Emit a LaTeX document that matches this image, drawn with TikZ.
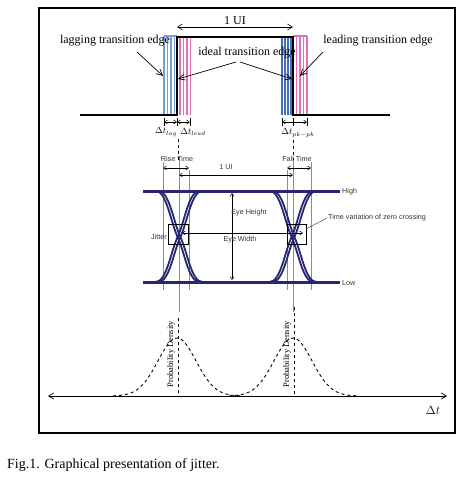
\documentclass[tikz,border=0pt]{standalone}
\usepackage{fontspec}
\setmainfont{Liberation Serif}
\newfontfamily\eyefont{Liberation Sans}
\usepackage{amsmath}
\usetikzlibrary{arrows.meta, positioning, calc}
\definecolor{lagblue}{RGB}{115, 160, 220}
\definecolor{lagdark}{RGB}{65, 110, 180}
\definecolor{leadpink}{RGB}{232, 110, 178}
\definecolor{eyenavy}{RGB}{38, 38, 115}

\begin{document}
\begin{tikzpicture}[x=1pt, y=-1pt,
  every node/.style={inner sep=1pt},
  toplbl/.style={font=\fontsize{12}{14}\selectfont},
  eyelbl/.style={font=\eyefont\fontsize{7.2}{8.5}\selectfont, text=black!80},
  pdlbl/.style={font=\fontsize{8.5}{10}\selectfont, rotate=90},
  barb/.style={{Straight Barb[length=5pt,width=6pt]}-{Straight Barb[length=5pt,width=6pt]}},
  smallbarb/.style={{Straight Barb[length=3pt,width=4pt]}-{Straight Barb[length=3pt,width=4pt]}},
  pointer/.style={-{Straight Barb[length=6pt,width=6pt]}, line width=0.7pt},
  eyetrace/.style={draw=eyenavy, line width=1.8pt},
  guide/.style={draw=black!45, line width=0.5pt}]
  \useasboundingbox (0,0) rectangle (474,481);

  % outer frame
  \draw[line width=1.4pt] (39,8) rectangle (455,433);

  % jittered edges of the pulse
  \foreach \x in {164,167.5,171,174.5} \draw[lagblue, line width=1.2pt] (\x,36) -- (\x,115);
  \draw[lagblue, line width=1.2pt] (164,36) -- (177,36);
  \foreach \x in {180,183.5,187,190.5} \draw[leadpink, line width=1.2pt] (\x,37) -- (\x,115);
  \foreach \x in {282,285,288,291} \draw[lagdark, line width=1.2pt] (\x,37) -- (\x,115);
  \foreach \x in {296.5,300,303.5,307} \draw[leadpink, line width=1.2pt] (\x,36) -- (\x,115);
  \draw[leadpink, line width=1.2pt] (293,36) -- (307,36);

  % ideal pulse
  \draw[line width=1.6pt] (80,115) -- (177,115) -- (177,37) -- (293,37) -- (293,115) -- (390,115);

  \draw[barb, line width=0.6pt] (177,27) -- node[above=1pt, toplbl] (ui) {1 UI} (293,27);

  \node[toplbl] (lagging) at (115,41) {lagging transition edge};
  \node[toplbl] (leading) at (378,41) {leading transition edge};
  \node[toplbl] (ideal) at (247,53) {ideal transition edge};
  \draw[pointer] (137,52) -- (163,76);
  \draw[pointer] (323,52) -- (300,76);
  \draw[pointer] (236,62) -- (178,79);
  \draw[pointer] (240,62) -- (292,79);

  % deviation markers
  \draw[smallbarb, line width=0.5pt] (164,122) -- (177,122);
  \draw[smallbarb, line width=0.5pt] (177,122) -- (190,122);
  \draw[smallbarb, line width=0.5pt] (282,122) -- (307,122);
  \foreach \x in {164,177,190,282,293,307} \draw[line width=0.5pt] (\x,118) -- (\x,126);
  \node[font=\fontsize{9}{10}\selectfont] (dlag) at (166,132) {$\Delta t_{lag}$};
  \node[font=\fontsize{9}{10}\selectfont] (dlead) at (193,132) {$\Delta t_{lead}$};
  \node[font=\fontsize{9}{10}\selectfont] (dpkpk) at (298,133) {$\Delta t_{pk-pk}$};

  \draw[dashed, line width=0.7pt] (178,139) -- (178,160);
  \draw[dashed, line width=0.7pt] (293,140) -- (293,160);

  % eye diagram guides
  \draw[guide] (163,162) -- (163,290);
  \draw[guide] (179,160) -- (179,312);
  \draw[guide] (189,170) -- (189,290);
  \draw[guide] (287,170) -- (287,290);
  \draw[guide] (293,160) -- (293,312);
  \draw[guide] (311,162) -- (311,290);
  \draw[smallbarb, line width=0.5pt] (163,168) -- (189,168);
  \draw[smallbarb, line width=0.5pt] (287,168) -- (311,168);
  \draw[smallbarb, line width=0.5pt] (179,175) -- (293,175);
  \node[eyelbl] (rise) at (177,159) {Rise Time};
  \node[eyelbl] (fall) at (297,159) {Fall Time};
  \node[eyelbl] (uieye) at (226,167) {1 UI};

  % eye traces
  \draw[eyenavy, line width=3pt] (143,191) -- (340,191);
  \draw[eyenavy, line width=3pt] (143,282) -- (340,282);
  \foreach \d in {-1.4,1.4} {
    \draw[eyetrace, xshift=\d pt] (157,191) .. controls (168,191) and (172,222) .. (179,237) .. controls (186,252) and (190,282) .. (201,282);
    \draw[eyetrace, xshift=\d pt] (157,282) .. controls (168,282) and (172,252) .. (179,237) .. controls (186,222) and (190,191) .. (201,191);
    \draw[eyetrace, xshift=\d pt] (271,191) .. controls (282,191) and (286,222) .. (293,237) .. controls (300,252) and (304,282) .. (315,282);
    \draw[eyetrace, xshift=\d pt] (271,282) .. controls (282,282) and (286,252) .. (293,237) .. controls (300,222) and (304,191) .. (315,191);
  }
  \node[eyelbl, anchor=west] (high) at (341,192) {High};
  \node[eyelbl, anchor=west] (low) at (341,283) {Low};

  \draw[line width=0.9pt] (168,224) rectangle (188,244);
  \draw[line width=0.9pt] (287,224) rectangle (306,244);
  \node[eyelbl, anchor=east] (jitter) at (168,237) {Jitter};

  \draw[smallbarb, line width=0.5pt] (232,193) -- (232,280);
  \node[eyelbl] (height) at (249,213) {Eye Height};
  \draw[smallbarb, line width=0.5pt] (182,233) -- (303,233);
  \node[eyelbl] (width) at (240,240) {Eye Width};
  \node[eyelbl, anchor=west] (zerox) at (327,218) {Time variation of zero crossing};
  \draw[line width=0.5pt, black!70] (zerox.west) -- (306,229);

  % probability density of the crossings
  \draw[dashed, line width=0.9pt] plot[domain=113:241, samples=70] (\x, {396-58*exp(-((\x-177)^2)/722)});
  \draw[dashed, line width=0.9pt] plot[domain=229:357, samples=70] (\x, {396-58*exp(-((\x-293)^2)/722)});
  \draw[dashed, line width=0.9pt] (178,318) -- (178,396);
  \draw[dashed, line width=0.9pt] (294,307) -- (294,396);
  \node[pdlbl] (pdleft) at (171,354) {Probability Density};
  \node[pdlbl] (pdright) at (287,354) {Probability Density};

  % time axis
  \draw[barb, line width=0.7pt] (48,396) -- (447,396);
  \node[font=\fontsize{13}{15}\selectfont] (dt) at (433,410) {$\Delta t$};

  \node[anchor=west, font=\fontsize{14}{16}\selectfont] (caption) at (6,465) {Fig.1. Graphical presentation of jitter.};
\end{tikzpicture}
\end{document}
